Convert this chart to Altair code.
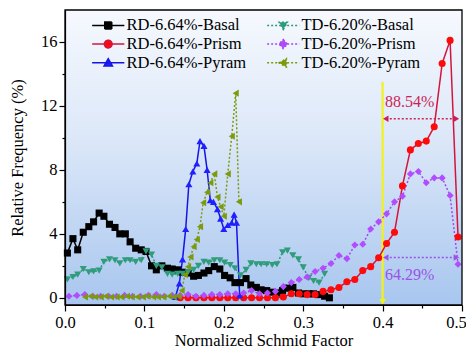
import altair as alt
import pandas as pd

FONT = "Liberation Serif"

SERIES = ["RD-6.64%-Basal", "RD-6.64%-Prism", "RD-6.64%-Pyram",
          "TD-6.20%-Basal", "TD-6.20%-Prism", "TD-6.20%-Pyram"]

LINE_COLORS = ["#000000", "#d4143c", "#1414e6", "#2a9a78", "#a646f2", "#7c9a0c"]
MARKER_COLORS = ["#000000", "#ff0a0a", "#2020ff", "#2f9c7c", "#b24cff", "#7c9a0c"]
SHAPES = ["square", "circle", "triangle-up", "triangle-down", "diamond", "triangle-left"]
DASHES = [[1, 0], [1, 0], [1, 0], [2, 2], [2, 2], [2, 2]]
LEGEND_PATHS = [
    "M-4.6,0H4.6M-1,-1H1V1H-1Z",
    "M-4.6,0H4.6M1.1,0A1.1,1.1 0 1,1 -1.1,0A1.1,1.1 0 1,1 1.1,0Z",
    "M-4.6,0H4.6M0,-1.2L1.2,0.9H-1.2Z",
    "M-4.6,0H4.6M0,1.2L1.2,-0.9H-1.2Z",
    "M-4.6,0H4.6M0,-1.3L1.2,0L0,1.3L-1.2,0Z",
    "M-4.6,0H4.6M-1.2,0L0.9,-1.2V1.2Z",
]

X_DOMAIN = [0.0, 0.5]
Y_DOMAIN = [-0.45, 18.0]
X_TICKS = [0.0, 0.05, 0.1, 0.15, 0.2, 0.25, 0.3, 0.35, 0.4, 0.45, 0.5]
Y_TICKS = [0, 2, 4, 6, 8, 10, 12, 14, 16]

# RD-6.64%-Basal
rd_basal_x = [0.003, 0.010, 0.016, 0.023, 0.030, 0.036, 0.043, 0.049, 0.056, 0.063,
              0.069, 0.076, 0.082, 0.089, 0.096, 0.102, 0.109, 0.115, 0.122, 0.129,
              0.135, 0.142, 0.148, 0.155, 0.162, 0.168, 0.175, 0.181, 0.188, 0.195,
              0.201, 0.208, 0.214, 0.221, 0.228, 0.234, 0.241, 0.247, 0.254, 0.261,
              0.267, 0.274, 0.280, 0.287, 0.294, 0.300, 0.307, 0.313, 0.320, 0.327, 0.333]
rd_basal_y = [2.8, 3.7, 3.0, 4.1, 4.45, 4.75, 5.3, 5.1, 4.6, 4.4,
              4.0, 4.0, 3.5, 3.1, 3.0, 2.9, 2.0, 1.75, 2.0, 1.85,
              1.8, 1.75, 1.6, 1.55, 1.35, 1.4, 1.55, 1.7, 1.95, 1.8,
              1.4, 1.25, 0.95, 0.95, 1.2, 0.8, 0.65, 0.5, 0.45, 0.35,
              0.3, 0.45, 0.6, 0.65, 0.3, 0.25, 0.25, 0.25, 0.2, 0.1, 0.0]

# RD-6.64%-Prism
rd_prism_x = [0.145, 0.155, 0.165, 0.175, 0.185, 0.195, 0.205, 0.215, 0.225, 0.235,
              0.245, 0.255, 0.265, 0.275, 0.285, 0.295, 0.305, 0.315, 0.325, 0.335,
              0.345, 0.355, 0.365, 0.375, 0.385, 0.395, 0.405, 0.415, 0.425, 0.435,
              0.445, 0.455, 0.465, 0.475, 0.485, 0.495]
rd_prism_y = [0.0, 0.0, 0.0, 0.0, 0.0, 0.0, 0.0, 0.0, 0.0, 0.0,
              0.0, 0.0, 0.0, 0.05, 0.25, 0.25, 0.2, 0.2, 0.4, 0.5,
              0.65, 1.0, 1.15, 1.7, 1.95, 2.5, 3.4, 4.1, 7.0, 9.25,
              9.65, 9.8, 10.7, 14.65, 16.1, 3.8]

# RD-6.64%-Pyram
rd_pyram_x = [0.139, 0.144, 0.148, 0.152, 0.156, 0.161, 0.166, 0.170, 0.175, 0.179,
              0.183, 0.187, 0.192, 0.196, 0.200, 0.205, 0.210, 0.213, 0.216, 0.220]
rd_pyram_y = [0.05, 0.9, 2.4, 4.3, 7.1, 7.9, 8.4, 9.8, 9.5, 8.0,
              6.1, 6.0, 5.55, 4.95, 4.3, 4.55, 4.7, 5.2, 4.7, 0.15]

# TD-6.20%-Basal
td_basal_x = rd_basal_x[:50]
td_basal_y = [1.15, 1.3, 1.45, 1.8, 1.6, 1.65, 1.7, 2.25, 2.4, 2.35,
              2.15, 2.35, 2.35, 2.25, 2.35, 2.9, 2.7, 2.0, 1.9, 1.5,
              1.45, 1.5, 1.5, 1.6, 1.75, 2.0, 2.25, 2.2, 2.35, 2.35,
              2.2, 2.05, 1.85, 1.4, 1.75, 2.15, 2.1, 2.1, 2.1, 2.05,
              2.1, 2.85, 2.95, 2.65, 2.4, 1.9, 1.25, 1.05, 0.95, 1.5]

# TD-6.20%-Prism
td_prism_x = [0.005, 0.015, 0.025, 0.035, 0.045, 0.055, 0.065, 0.075, 0.085, 0.095,
              0.105, 0.115, 0.125, 0.135, 0.145, 0.155, 0.165, 0.175, 0.185, 0.195,
              0.205, 0.215, 0.225, 0.235, 0.245, 0.255, 0.265, 0.275, 0.285, 0.295,
              0.305, 0.315, 0.325, 0.335, 0.345, 0.355, 0.365, 0.375, 0.385, 0.395,
              0.405, 0.415, 0.425, 0.435, 0.445, 0.455, 0.465, 0.475, 0.485, 0.495]
td_prism_y = [0.1, 0.15, 0.2, 0.1, 0.1, 0.1, 0.1, 0.15, 0.1, 0.1,
              0.15, 0.2, 0.1, 0.15, 0.15, 0.2, 0.1, 0.15, 0.2, 0.2,
              0.25, 0.25, 0.3, 0.45, 0.25, 0.3, 0.4, 0.7, 0.95, 1.15,
              1.3, 1.65, 1.85, 2.15, 2.65, 2.45, 3.3, 3.35, 4.3, 4.75,
              5.25, 6.0, 6.35, 7.75, 7.9, 7.2, 7.5, 7.5, 6.4, 2.1]

# TD-6.20%-Pyram
td_pyram_x = [0.025, 0.032, 0.038, 0.045, 0.051, 0.058, 0.065, 0.071, 0.078, 0.084,
              0.091, 0.098, 0.104, 0.111, 0.117, 0.124, 0.131, 0.137, 0.143, 0.147,
              0.151, 0.155, 0.158, 0.162, 0.166, 0.170, 0.174, 0.179, 0.183, 0.188,
              0.192, 0.196, 0.200, 0.205, 0.210, 0.215, 0.219]
td_pyram_y = [0.05, 0.1, 0.05, 0.05, 0.1, 0.05, 0.05, 0.05, 0.1, 0.05,
              0.05, 0.05, 0.1, 0.05, 0.05, 0.05, 0.1, 0.05, 0.1, 0.45,
              1.45, 1.95, 2.55, 3.2, 3.65, 4.45, 5.95, 6.6, 7.2, 7.75,
              6.3, 5.7, 5.1, 7.75, 10.1, 12.8, 6.0]

# annotations
CUT_X = 0.4
CUT_Y_TOP = 13.5
CUT_Y_BOTTOM = -0.25
ANN_LABELS = ["88.54%", "64.29%"]
ANN_COLORS = ["#cc1f55", "#9a52e6"]
ANN_ARROW_Y = [11.2, 2.52]
ANN_TEXT_Y = [12.27, 1.44]
ANN_X_START = 0.404
ANN_X_END = 0.493

series_data = [
    (rd_basal_x, rd_basal_y), (rd_prism_x, rd_prism_y), (rd_pyram_x, rd_pyram_y),
    (td_basal_x, td_basal_y), (td_prism_x, td_prism_y), (td_pyram_x, td_pyram_y),
]
rows = []
for name, (xs_, ys_) in zip(SERIES, series_data):
    for xv, yv in zip(xs_, ys_):
        rows.append({"series": name, "x": xv, "y": yv})
df = pd.DataFrame(rows)

xs = alt.Scale(domain=X_DOMAIN, nice=False, zero=False)
ys = alt.Scale(domain=Y_DOMAIN, nice=False, zero=False)

x_axis = alt.Axis(
    values=X_TICKS,
    labelExpr="(round(datum.value*100) % 10 == 0) ? format(datum.value, '.1f') : ''",
    tickSize={"condition": {"test": "round(datum.value*100) % 10 == 0", "value": 6}, "value": 3},
    labelOffset={"condition": {"test": "datum.value > 0.49", "value": -6}, "value": 0},
    title="Normalized Schmid Factor", titleX=198.5, titleY=35.5, titleBaseline="middle",
    labelPadding=3, labelFlush=False, labelOverlap=False, zindex=1,
)
y_axis = alt.Axis(
    values=Y_TICKS,
    labelExpr="(datum.value % 4 == 0) ? datum.label : ''",
    tickSize={"condition": {"test": "datum.value % 4 == 0", "value": 6}, "value": 3},
    title="Relative Frequency (%)", titleX=-48, titleY=147.5, titleAngle=-90,
    titleAlign="center", titleBaseline="middle",
    labelPadding=2, labelFlush=False, labelOverlap=False, zindex=1,
)
x_enc = alt.X("x:Q", scale=xs, axis=x_axis)
y_enc = alt.Y("y:Q", scale=ys, axis=y_axis)

bg_df = pd.DataFrame({"x": [X_DOMAIN[0]], "x2": [X_DOMAIN[1]], "y": [Y_DOMAIN[0]], "y2": [Y_DOMAIN[1]]})
gradient = alt.LinearGradient(
    gradient="linear", x1=0, x2=0, y1=0, y2=1,
    stops=[alt.GradientStop(color="#f6f9fe", offset=0),
           alt.GradientStop(color="#dbe7f8", offset=0.45),
           alt.GradientStop(color="#a8c6ef", offset=1)],
)
background = alt.Chart(bg_df).mark_rect(color=gradient).encode(
    x=x_enc, x2="x2:Q", y=y_enc, y2="y2:Q")
frame = alt.Chart(bg_df).mark_rect(fill=None, stroke="black", strokeWidth=1.3).encode(
    x=x_enc, x2="x2:Q", y=y_enc, y2="y2:Q")

lines = alt.Chart(df).mark_line(strokeWidth=1.5).encode(
    x=x_enc, y=y_enc,
    color=alt.Color("series:N", scale=alt.Scale(domain=SERIES, range=LINE_COLORS), legend=None),
    strokeDash=alt.StrokeDash("series:N", scale=alt.Scale(domain=SERIES, range=DASHES), legend=None),
)
points = alt.Chart(df).mark_point(filled=True, opacity=1, size=50).encode(
    x=x_enc, y=y_enc,
    color=alt.Color("series:N", scale=alt.Scale(domain=SERIES, range=MARKER_COLORS), legend=None),
    shape=alt.Shape("series:N", scale=alt.Scale(domain=SERIES, range=SHAPES), legend=None),
)

leg = alt.Legend(
    title=None, orient="none", legendX=35, legendY=7, columns=2,
    columnPadding=17, rowPadding=1.8, symbolSize=49, symbolStrokeWidth=1.5,
    labelFont=FONT, labelFontSize=16.5, labelColor="black", labelOffset=10,
    padding=0,
)
legend_layer = alt.Chart(pd.DataFrame({"series": SERIES, "x": [0.0] * 6, "y": [0.0] * 6})).mark_point(
    filled=True, opacity=1, strokeWidth=1.5).encode(
    x=x_enc, y=y_enc,
    fill=alt.Fill("series:N", scale=alt.Scale(domain=SERIES, range=MARKER_COLORS), legend=leg),
    stroke=alt.Stroke("series:N", scale=alt.Scale(domain=SERIES, range=LINE_COLORS), legend=leg),
    shape=alt.Shape("series:N", scale=alt.Scale(domain=SERIES, range=LEGEND_PATHS), legend=leg),
    strokeDash=alt.StrokeDash("series:N", scale=alt.Scale(domain=SERIES, range=DASHES), legend=leg),
).transform_filter("false")

cut_df = pd.DataFrame({"x": [CUT_X], "y": [CUT_Y_BOTTOM], "y2": [CUT_Y_TOP]})
cut_line = alt.Chart(cut_df).mark_rule(color="#f2f21a", strokeWidth=2.2).encode(
    x=x_enc, y=y_enc, y2="y2:Q")
cut_head = alt.Chart(cut_df).mark_point(shape="triangle-down", filled=True, opacity=1,
                                       color="#f2f21a", size=45).encode(x=x_enc, y=y_enc)

arrow_df = pd.DataFrame({"x": [ANN_X_START] * 2, "x2": [ANN_X_END] * 2, "y": ANN_ARROW_Y, "c": ANN_COLORS})
arrows = alt.Chart(arrow_df).mark_rule(strokeDash=[2, 2], strokeWidth=1.5).encode(
    x=x_enc, x2="x2:Q", y=y_enc, color=alt.Color("c:N", scale=None, legend=None))
head_df = pd.DataFrame({
    "x": [ANN_X_START, ANN_X_END, ANN_X_START, ANN_X_END],
    "y": [ANN_ARROW_Y[0], ANN_ARROW_Y[0], ANN_ARROW_Y[1], ANN_ARROW_Y[1]],
    "s": ["triangle-left", "triangle-right", "triangle-left", "triangle-right"],
    "c": [ANN_COLORS[0], ANN_COLORS[0], ANN_COLORS[1], ANN_COLORS[1]],
})
heads = alt.Chart(head_df).mark_point(filled=True, opacity=1, size=40).encode(
    x=x_enc, y=y_enc,
    shape=alt.Shape("s:N", scale=None, legend=None),
    color=alt.Color("c:N", scale=None, legend=None))
text_df = pd.DataFrame({"x": [ANN_X_START - 0.001] * 2, "y": ANN_TEXT_Y, "t": ANN_LABELS, "c": ANN_COLORS})
texts = alt.Chart(text_df).mark_text(align="left", baseline="middle", font=FONT, fontSize=16).encode(
    x=x_enc, y=y_enc, text="t:N", color=alt.Color("c:N", scale=None, legend=None))

chart = alt.layer(
    background, cut_line, cut_head, lines, points, arrows, heads, texts, legend_layer, frame
).resolve_scale(
    color="independent", shape="independent", strokeDash="independent",
    fill="independent", stroke="independent",
).properties(
    width=397, height=295,
    autosize=alt.AutoSizeParams(type="none"),
    padding={"left": 57, "top": 2, "right": 4, "bottom": 44},
).configure_axis(
    labelFont=FONT, titleFont=FONT, labelFontSize=16.5, titleFontSize=16.5,
    labelColor="black", titleColor="black", domainColor="black", tickColor="black",
    domainWidth=1.2, tickWidth=1.2, grid=False, titleFontWeight="normal",
).configure_view(stroke=None)

chart.save("out.html", embed_options={"renderer": "svg", "actions": False})
